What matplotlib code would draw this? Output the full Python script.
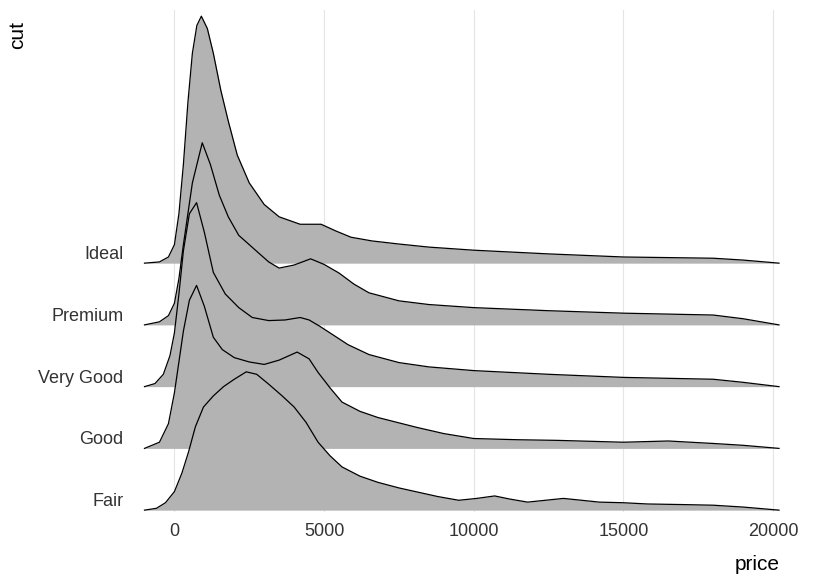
import matplotlib
matplotlib.use("Agg")
import matplotlib.pyplot as plt
plt.rcParams['font.family'] = ['Liberation Sans', 'DejaVu Sans']

cuts = ["Fair", "Good", "Very Good", "Premium", "Ideal"]
price_fair = [-1000, -600, -300, 0, 250, 470, 700, 970, 1300, 1640, 2000, 2400, 2750, 3150, 3600, 4000, 4400, 4800, 5200, 5600, 6200, 6800, 7500, 8150, 8800, 9500, 10100, 10700, 11200, 11800, 12400, 13000, 13600, 14200, 15000, 15800, 17000, 18000, 19000, 20200]
dens_fair = [0, 0.03, 0.12, 0.3, 0.6, 0.94, 1.35, 1.67, 1.85, 2.0, 2.12, 2.24, 2.2, 2.04, 1.85, 1.67, 1.42, 1.1, 0.88, 0.7, 0.55, 0.45, 0.36, 0.29, 0.22, 0.16, 0.19, 0.23, 0.18, 0.13, 0.16, 0.19, 0.16, 0.13, 0.12, 0.1, 0.09, 0.08, 0.05, 0]
price_good = [-1000, -500, -200, 0, 150, 300, 500, 740, 1000, 1300, 1600, 2000, 2500, 3000, 3500, 4100, 4500, 4800, 5200, 5600, 6200, 6800, 8100, 9000, 10000, 11500, 12800, 15000, 16500, 18000, 19000, 20200]
dens_good = [0, 0.1, 0.4, 0.9, 1.4, 1.9, 2.4, 2.64, 2.3, 1.8, 1.6, 1.47, 1.4, 1.36, 1.43, 1.56, 1.45, 1.23, 0.98, 0.75, 0.6, 0.5, 0.34, 0.24, 0.16, 0.14, 0.13, 0.1, 0.12, 0.08, 0.05, 0]
price_vgood = [-1000, -650, -370, -150, 0, 150, 300, 500, 740, 1000, 1300, 1700, 2150, 2600, 3150, 3700, 4200, 4500, 4850, 5200, 5800, 6500, 7500, 8500, 10000, 12500, 15000, 18000, 19000, 20200]
dens_vgood = [0, 0.05, 0.2, 0.5, 0.87, 1.5, 2.2, 2.8, 2.98, 2.5, 1.85, 1.5, 1.28, 1.12, 1.07, 1.08, 1.12, 1.08, 0.98, 0.87, 0.68, 0.52, 0.39, 0.32, 0.26, 0.2, 0.15, 0.12, 0.07, 0]
price_prem = [-1000, -500, -200, 0, 150, 300, 600, 930, 1200, 1500, 1800, 2150, 2500, 2800, 3150, 3500, 4000, 4550, 5000, 5500, 6000, 6500, 7500, 8500, 10000, 12500, 15000, 18000, 19000, 20200]
dens_prem = [0, 0.05, 0.15, 0.35, 0.75, 1.3, 2.3, 2.95, 2.6, 2.1, 1.75, 1.45, 1.3, 1.17, 1.02, 0.92, 0.97, 1.07, 0.98, 0.84, 0.66, 0.52, 0.39, 0.33, 0.28, 0.23, 0.19, 0.16, 0.1, 0]
price_ideal = [-1000, -500, -200, 0, 150, 300, 450, 600, 750, 900, 1100, 1300, 1550, 1800, 2100, 2500, 3000, 3500, 4200, 4900, 5400, 5900, 6600, 7500, 8500, 10000, 12500, 15000, 18000, 19000, 20200]
dens_ideal = [0, 0.02, 0.1, 0.3, 0.8, 1.6, 2.6, 3.4, 3.85, 4.0, 3.8, 3.4, 2.8, 2.3, 1.75, 1.3, 0.95, 0.75, 0.63, 0.63, 0.52, 0.42, 0.36, 0.31, 0.26, 0.21, 0.15, 0.1, 0.08, 0.05, 0]

series = [(price_fair, dens_fair), (price_good, dens_good), (price_vgood, dens_vgood),
          (price_prem, dens_prem), (price_ideal, dens_ideal)]

fig = plt.figure(figsize=(8.13, 5.83), dpi=100)
ax = fig.add_axes([140/813, 1-512/583, 645/813, 502/583])
for i in reversed(range(len(cuts))):
    xs, ys = series[i]
    yy = [i + v for v in ys]
    ax.fill_between(xs, i, yy, color="#B3B3B3", zorder=2 + (5 - i) * 2, lw=0)
    ax.plot(xs, yy, color="black", lw=0.9, zorder=3 + (5 - i) * 2, solid_joinstyle="round")

ax.set_xlim(-1150, 20400)
ax.set_ylim(-0.03, 8.1)
ax.set_xticks([0, 5000, 10000, 15000, 20000])
ax.set_yticks(range(5))
ax.set_yticklabels(cuts)
ax.grid(axis="x", color="#E5E5E5", lw=0.8, zorder=0)
for s in ax.spines.values():
    s.set_visible(False)
ax.tick_params(length=0, labelsize=13, colors="#333333", pad=8)
ax.tick_params(axis="y", pad=12)
for t in ax.get_yticklabels():
    t.set_verticalalignment("bottom")
fig.text(735/813, 1-565/583, "price", fontsize=15, ha="left", va="center")
fig.text(18/813, 1-35/583, "cut", fontsize=15, rotation=90, ha="center", va="center")
fig.savefig("out.png", dpi=100)
